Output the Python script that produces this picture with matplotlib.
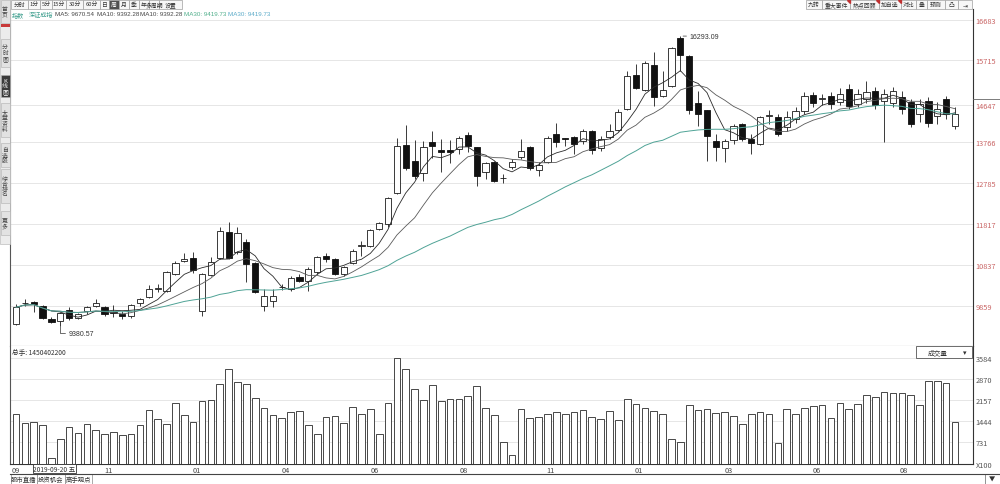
import numpy as np
import pandas as pd
import matplotlib
matplotlib.use("Agg")
import matplotlib.pyplot as plt
from matplotlib.patches import Rectangle
from matplotlib.lines import Line2D

plt.rcParams['font.family'] = ['Noto Sans CJK SC', 'DejaVu Sans']

# ---------------- data (weekly K-line, 深证成指) ----------------
opens = [9438, 9930, 9969, 9874, 9557, 9517, 9779, 9589, 9755, 9858,
         9835, 9720, 9676, 9620, 9930, 10073, 10280, 10231, 10628, 10930,
         11001, 9745, 10604, 11001, 11636, 11144, 11382, 10882, 9874, 9993,
         10308, 10271, 10565, 10469, 10668, 11065, 10985, 10628, 10890, 11300,
         11287, 11700, 11818, 12549, 13708, 13327, 13033, 13779, 13589, 13570,
         13604, 13938, 13644, 13049, 13287, 12910, 13184, 13406, 13660, 13104,
         13287, 13962, 13858, 13882, 13803, 14041, 13620, 13882, 14057, 14557,
         15367, 15009, 15605, 14875, 15113, 16250, 15827, 14692, 14533, 13803,
         13628, 13819, 14200, 13843, 13724, 14395, 14359, 14128, 14319, 14509,
         14890, 14795, 14866, 14724, 15033, 14676, 14795, 14985, 14747, 14700,
         14843, 14724, 14438, 14747, 14390, 14795, 14152]
highs = [9914, 10033, 9990, 9890, 9596, 9731, 9834, 9700, 9874, 10033,
         9858, 9890, 9755, 9914, 10049, 10374, 10390, 10708, 10946, 11128,
         11144, 10660, 11025, 11739, 11858, 11739, 11461, 10906, 10271, 10271,
         10390, 10588, 10628, 10787, 11065, 11120, 11001, 10827, 11223, 11422,
         11700, 11858, 12461, 13858, 14176, 13827, 13803, 14041, 13843, 13827,
         13906, 14001, 13660, 13287, 13327, 13009, 13366, 13843, 13684, 13287,
         13922, 14224, 13874, 13922, 14081, 14065, 13922, 14200, 14557, 15470,
         15629, 15692, 15906, 15470, 16025, 16293.09, 15843, 14994, 14533, 13962,
         13843, 14200, 14216, 13962, 14398, 14533, 14438, 14509, 14605, 14962,
         14962, 14914, 14962, 15057, 15152, 15033, 15224, 15081, 15033, 15081,
         14985, 14795, 14795, 14843, 14724, 14866, 14605]
lows = [9414, 9858, 9720, 9557, 9461, 9380.57, 9541, 9557, 9676, 9835,
        9636, 9596, 9557, 9573, 9874, 10057, 10208, 10192, 10604, 10906,
        10652, 9630, 10573, 10985, 10985, 11104, 10430, 10176, 9755, 9834,
        10255, 10231, 10446, 10231, 10628, 10906, 10604, 10588, 10866, 11065,
        11263, 11684, 11739, 12533, 13112, 12890, 12850, 13400, 13049, 13271,
        13485, 13525, 12731, 12890, 12811, 12795, 13128, 13366, 13112, 12970,
        13271, 13644, 13684, 13485, 13724, 13485, 13565, 13843, 14025, 14533,
        15033, 14994, 14636, 14851, 15089, 15470, 14438, 14160, 13327, 13327,
        13287, 13724, 13803, 13485, 13708, 14200, 13922, 14033, 14224, 14438,
        14605, 14652, 14557, 14652, 14557, 14605, 14700, 14557, 13771, 14605,
        14438, 14128, 14248, 14128, 14200, 14319, 14081]
closes = [9835, 9945, 9914, 9580, 9477, 9700, 9573, 9676, 9835, 9930,
          9676, 9710, 9620, 9890, 10033, 10271, 10290, 10668, 10890, 10985,
          10720, 10628, 10922, 11644, 11009, 11596, 10866, 10192, 10112, 10112,
          10312, 10533, 10469, 10747, 11025, 10985, 10628, 10787, 11184, 11310,
          11684, 11834, 12446, 13684, 13144, 12970, 13660, 13684, 13525, 13525,
          13859, 13684, 12970, 13263, 12850, 12915, 13303, 13549, 13144, 13231,
          13858, 13779, 13850, 13724, 14041, 13589, 13843, 14025, 14478, 15351,
          15057, 15644, 14851, 15009, 16002, 15843, 14533, 14438, 13922, 13644,
          13787, 14160, 13843, 13747, 14359, 14400, 13962, 14367, 14509, 14866,
          14700, 14800, 14676, 14914, 14628, 14914, 14962, 14652, 14914, 14985,
          14557, 14200, 14676, 14224, 14557, 14438, 14438]
volumes = [1707, 1395, 1428, 1328, 190, 837, 1239, 1060, 1350, 1160,
           1027, 1094, 993, 1027, 1328, 1830, 1518, 1361, 2065, 1663,
           1428, 2132, 2165, 2700, 3203, 2779, 2700, 2221, 1897, 1640,
           1562, 1752, 1797, 1328, 1027, 1596, 1629, 1395, 1920, 1707,
           1864, 1027, 2053, 3571, 3214, 2544, 2165, 2667, 2143, 2198,
           2187, 2299, 2623, 1908, 1652, 759, 312, 1875, 1562, 1585,
           1707, 1774, 1707, 1752, 1830, 1585, 1507, 1797, 1473, 2198,
           2031, 1908, 1808, 1674, 837, 759, 1998, 1819, 1853, 1741,
           1763, 1618, 1350, 1707, 1752, 1674, 714, 1864, 1707, 1897,
           1953, 1986, 1551, 2053, 1853, 2020, 2344, 2265, 2433, 2388,
           2399, 2332, 1986, 2801, 2823, 2734, 1428]

price_ticks = [9859, 10837, 11817, 12785, 13766, 14647, 15715, 16683]
vol_ticks = [0, 731, 1444, 2157, 2870, 3584]
vol_tick_labels = ['X100', '731', '1444', '2157', '2870', '3584']
month_pos = [0, 10.4, 20.4, 30.4, 40.5, 50.5, 60.3, 70.3, 80.4, 90.4, 100.2]
month_labels = ['09', '11', '01', '04', '06', '08', '11', '01', '03', '06', '08']
low_label, high_label = '9380.57', '16293.09'

left_buttons = ['分时', '1分', '5分', '15分', '30分', '60分', '日', '周', '月', '季', '年', '多周期', '设置']
right_buttons = ['九转', '重大事件', '热点回顾', '加自选', '对比', '叠', '预测', '凸', '⇥']
side_tabs = ['首页', '分时图', 'K线图', '大盘资料', '自选股', '综合排名', '更多']
bottom_tabs = ['股市直播', '投资机会', '高手观点']

# ---------------- figure ----------------
W, H = 1000, 485
fig = plt.figure(figsize=(W / 100, H / 100), dpi=100)
fig.patch.set_facecolor('white')


def fx(x):
    return x / W


def fy(y):
    return 1 - y / H


def frect(x0, y0, x1, y1, fc='white', ec='#9a9a9a', lw=0.6, z=5):
    fig.add_artist(Rectangle((fx(x0), fy(y1)), fx(x1) - fx(x0), fy(y0) - fy(y1),
                             transform=fig.transFigure, facecolor=fc, edgecolor=ec,
                             linewidth=lw, zorder=z))


def fline(x0, y0, x1, y1, c='#444', lw=0.8):
    fig.add_artist(Line2D([fx(x0), fx(x1)], [fy(y0), fy(y1)], transform=fig.transFigure,
                          color=c, linewidth=lw, zorder=6))


def ftext(x, y, s, size=5.2, color='#333', ha='center', va='center', **kw):
    fig.text(fx(x), fy(y), s, fontsize=size, color=color, ha=ha, va=va, zorder=7, **kw)


X0, X1 = 10, 973
ax = fig.add_axes([fx(X0), fy(347), fx(X1) - fx(X0), fy(10) - fy(347)])
axv = fig.add_axes([fx(X0), fy(465), fx(X1) - fx(X0), fy(347) - fy(465)], sharex=ax)

n = len(closes)
x = np.arange(n)
o = np.array(opens, float)
h = np.array(highs, float)
l = np.array(lows, float)
c = np.array(closes, float)
up = c >= o

step = (955 - 16) / (n - 1)
ax.set_xlim(-(16 - X0) / step, (n - 1) + (X1 - 955) / step)

# candles
ax.vlines(x, l, h, color='#1a1a1a', linewidth=0.6, zorder=2)
bottom = np.minimum(o, c)
height = np.maximum(np.abs(c - o), 12)
ax.bar(x[up], height[up], bottom=bottom[up], width=0.7, facecolor='white',
       edgecolor='#1a1a1a', linewidth=0.6, zorder=3)
ax.bar(x[~up], height[~up], bottom=bottom[~up], width=0.7, facecolor='#111111',
       edgecolor='#111111', linewidth=0.6, zorder=3)

# moving averages
s = pd.Series(c)
ma5 = s.rolling(5, min_periods=1).mean()
ma10 = s.rolling(10, min_periods=1).mean()
ma30 = s.rolling(30, min_periods=1).mean()
ax.plot(x, ma5, color='#2a2a2a', linewidth=0.6, zorder=4)
ax.plot(x, ma10, color='#5a5a5a', linewidth=0.6, zorder=4)
ax.plot(x, ma30, color='#4fa396', linewidth=0.7, zorder=4)

ax.set_ylim(17176 - 23.81 * 347, 17176 - 23.81 * 10)
ax.set_yticks(price_ticks)
ax.set_yticklabels([str(t) for t in price_ticks])
ax.yaxis.tick_right()
ax.tick_params(axis='y', length=0, labelsize=5.3, colors='#c96565', pad=2)
ax.tick_params(axis='x', length=0, labelbottom=False)
ax.grid(axis='y', color='#c4c4c4', linestyle=(0, (1.2, 1.2)), linewidth=0.6)
ax.set_axisbelow(True)
ax.spines['top'].set_visible(False)
ax.spines['bottom'].set_color('#7a7a7a')
ax.spines['bottom'].set_linewidth(0.8)
ax.spines['left'].set_color('#555555')
ax.spines['right'].set_color('#333333')
ax.spines['left'].set_linewidth(0.8)
ax.spines['right'].set_linewidth(0.8)

# extreme annotations
ilo = int(np.argmin(l))
ihi = int(np.argmax(h))
ax.annotate(low_label, xy=(x[ilo], l[ilo]), xytext=(x[ilo] + 0.9, l[ilo] - 160),
            fontsize=5.0, color='#333', va='center', ha='left', family='Liberation Sans',
            arrowprops=dict(arrowstyle='-', color='#333', lw=0.5,
                            connectionstyle='angle,angleA=0,angleB=90,rad=0',
                            shrinkA=0, shrinkB=0))
ax.annotate(high_label, xy=(x[ihi] + 0.3, h[ihi]), xytext=(x[ihi] + 1.0, h[ihi]),
            fontsize=5.0, color='#333', va='center', ha='left', family='Liberation Sans',
            arrowprops=dict(arrowstyle='-', color='#333', lw=0.5, shrinkA=0, shrinkB=0))

# volume
axv.bar(x, volumes, width=0.75, facecolor='white', edgecolor='#2a2a2a', linewidth=0.6, zorder=3)
axv.set_ylim(0, (465 - 347) / ((465 - 359) / 3584))
axv.set_yticks(vol_ticks)
axv.set_yticklabels(vol_tick_labels)
axv.yaxis.tick_right()
axv.tick_params(axis='y', length=0, labelsize=5.3, colors='#555555', pad=2)
axv.grid(axis='y', color='#c4c4c4', linestyle=(0, (1.2, 1.2)), linewidth=0.6)
axv.set_axisbelow(True)
axv.set_xticks(month_pos)
axv.set_xticklabels(month_labels)
axv.tick_params(axis='x', length=0, labelsize=5.3, colors='#444444', pad=1.5)
axv.spines['top'].set_visible(False)
axv.spines['bottom'].set_color('#333333')
axv.spines['left'].set_color('#555555')
axv.spines['right'].set_color('#333333')
for sp in ['bottom', 'left', 'right']:
    axv.spines[sp].set_linewidth(0.8)

# ---------------- interface chrome ----------------
# top toolbar (left)
lb_edges = [11, 28, 40, 52, 66, 83, 100, 109, 119, 129, 139, 149, 159, 182, 199]
for i, lab in enumerate(left_buttons):
    x0, x1 = lb_edges[i], lb_edges[i + 1]
    sel = lab == '周'
    frect(x0, 0.5, x1, 10, fc='#505050' if sel else '#f7f7f7', ec='#a0a0a0', lw=0.5)
    ftext((x0 + x1) / 2, 5.5, lab, size=4.2, color='white' if sel else '#333')

# top toolbar (right)
rb_edges = [806, 822, 850, 879, 901, 916, 927, 945, 958, 972]
for i, lab in enumerate(right_buttons):
    x0, x1 = rb_edges[i], rb_edges[i + 1]
    frect(x0, 0.5, x1, 10, fc='#f7f7f7', ec='#a0a0a0', lw=0.5)
    ftext((x0 + x1) / 2, 5.5, lab, size=4.2, color='#333')
    if lab in ('重大事件', '热点回顾', '加自选'):
        fig.add_artist(plt.Polygon([[fx(x1 - 3), fy(0.8)], [fx(x1 - 0.3), fy(0.8)], [fx(x1 - 0.3), fy(3.5)]],
                                   closed=True, transform=fig.transFigure, color='#c03030', zorder=8))

# header line
ftext(12, 15, '指数', size=4.4, color='#3f9f8f', ha='left')
ftext(29, 15, '深证成指', size=4.4, color='#3f9f8f', ha='left')
ftext(55, 15, 'MA5: 9670.54', size=4.5, color='#444', ha='left', family='Liberation Sans')
ftext(97, 15, 'MA10: 9392.28', size=4.5, color='#444', ha='left', family='Liberation Sans')
ftext(140, 15, 'MA10: 9392.28', size=4.5, color='#444', ha='left', family='Liberation Sans')
ftext(184, 15, 'MA30: 9419.73', size=4.5, color='#4fae8a', ha='left', family='Liberation Sans')
ftext(228, 15, 'MA30: 9419.73', size=4.5, color='#5aaac8', ha='left', family='Liberation Sans')

# left side bar
frect(0, 0, 10, 245, fc='#ececec', ec='#bdbdbd', lw=0.5, z=4)
tab_spans = [(1, 24), (40, 68), (76, 98), (104, 138), (144, 168), (170, 204), (212, 236)]
for lab, (y0, y1) in zip(side_tabs, tab_spans):
    sel = lab == 'K线图'
    frect(0.5, y0, 9.5, y1, fc='#3a3a3a' if sel else '#e2e2e2', ec='#b0b0b0', lw=0.4)
    ftext(5, (y0 + y1) / 2, '\n'.join(list(lab)) if lab != 'K线图' else 'K\n线\n图',
          size=4.2, color='white' if sel else '#444', linespacing=1.05)
frect(0.5, 25, 9.5, 28, fc='#c83a3a', ec='none', lw=0)

# volume header
ftext(12, 353.5, '总手: 1450402200', size=4.8, color='#333', ha='left')
frect(916, 347, 972, 358.5, fc='white', ec='#555', lw=0.6)
ftext(938, 353, '成交量', size=4.8, color='#333')
ftext(965, 353, '▾', size=5.0, color='#333')

# current price marker
fline(973, 100, 1000, 100, c='#666', lw=0.6)

# date axis strip
frect(33, 465, 76, 474, fc='white', ec='#333', lw=0.6)
ftext(54.5, 469.7, '2019-09-20 五', size=4.8, color='#333')
fline(10, 474.5, 1000, 474.5, c='#444', lw=0.8)

# bottom tabs
bt_edges = [11, 37, 65, 92]
for i, lab in enumerate(bottom_tabs):
    frect(bt_edges[i], 475, bt_edges[i + 1], 485, fc='white', ec='#888', lw=0.5)
    ftext((bt_edges[i] + bt_edges[i + 1]) / 2, 480, lab, size=4.6, color='#333')
frect(985, 475, 999.5, 484.5, fc='white', ec='#666', lw=0.5)
ftext(992, 479.5, '▼', size=4.5, color='#333')

fig.savefig('out.png', dpi=100, facecolor='white')
